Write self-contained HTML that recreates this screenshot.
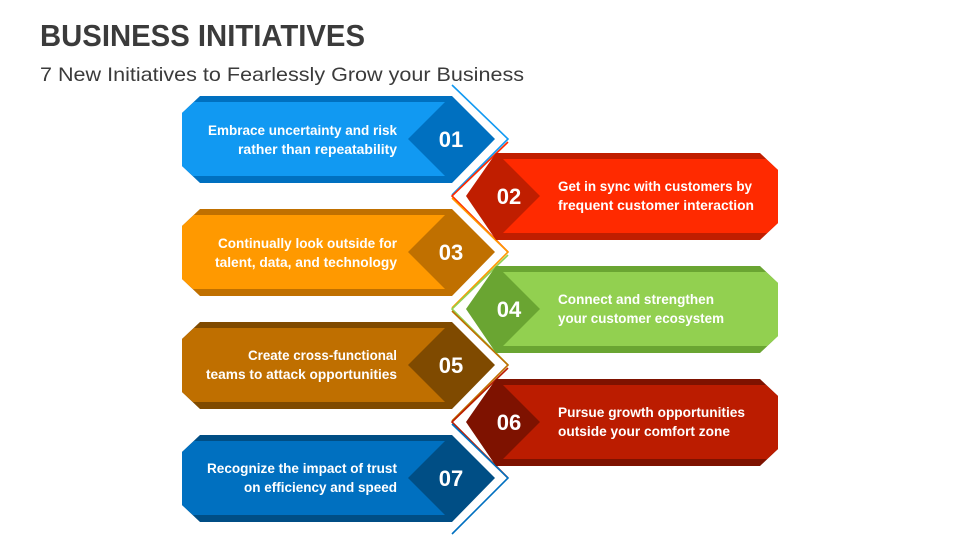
<!DOCTYPE html>
<html><head><meta charset="utf-8"><style>
body{margin:0;width:960px;height:540px;background:#fff;overflow:hidden;font-family:"Liberation Sans",sans-serif}
svg{position:absolute;left:0;top:0}
.t{font-family:"Liberation Sans",sans-serif;font-size:13.5px;font-weight:bold;fill:#fff}
.n{font-family:"Liberation Sans",sans-serif;font-size:22px;font-weight:bold;fill:#fff}
</style></head><body>
<svg width="960" height="540" viewBox="0 0 960 540">
<text x="40" y="46" font-family="Liberation Sans" font-weight="bold" font-size="31" fill="#3b3b3b" textLength="325" lengthAdjust="spacingAndGlyphs">BUSINESS INITIATIVES</text>
<text x="40" y="81" font-family="Liberation Sans" font-size="19.5" fill="#3b3b3b" textLength="484" lengthAdjust="spacingAndGlyphs">7 New Initiatives to Fearlessly Grow your Business</text>

<g fill="none" stroke-width="1.6">
<polyline points="452,85 508,139 452,195" stroke="#1199f2"/>
<polyline points="508,142 452,196 508,252" stroke="#ff2a00"/>
<polyline points="452,198 508,252 452,308" stroke="#ff9900"/>
<polyline points="508,255 452,309 508,365" stroke="#92d050"/>
<polyline points="452,311 508,365 452,421" stroke="#bf6f00"/>
<polyline points="508,368 452,422 508,478" stroke="#bb1c00"/>
<polyline points="452,424 508,478 452,534" stroke="#0070c0"/>
</g>

<polygon points="200,96 452,96 495,139 452,183 200,183 182,166 182,113" fill="#0070c0"/>
<polygon points="194,102 445,102 408,139 445,176 193,176 182,166 182,113" fill="#1199f2"/>
<text class="n" x="451" y="147" text-anchor="middle">01</text>
<text class="t" x="208" y="135" textLength="189" lengthAdjust="spacingAndGlyphs">Embrace uncertainty and risk</text>
<text class="t" x="238" y="154" textLength="159" lengthAdjust="spacingAndGlyphs">rather than repeatability</text>

<polygon points="496,153 760,153 778,170 778,223 760,240 496,240 466,196" fill="#c01e00"/>
<polygon points="503,159 766,159 778,170 778,223 767,233 503,233 540,196" fill="#ff2a00"/>
<text class="n" x="509" y="204" text-anchor="middle">02</text>
<text class="t" x="558" y="191" textLength="194" lengthAdjust="spacingAndGlyphs">Get in sync with customers by</text>
<text class="t" x="558" y="210" textLength="196" lengthAdjust="spacingAndGlyphs">frequent customer interaction</text>

<polygon points="200,209 452,209 495,252 452,296 200,296 182,279 182,226" fill="#c07000"/>
<polygon points="194,215 445,215 408,252 445,289 193,289 182,279 182,226" fill="#ff9900"/>
<text class="n" x="451" y="260" text-anchor="middle">03</text>
<text class="t" x="218" y="248" textLength="179" lengthAdjust="spacingAndGlyphs">Continually look outside for</text>
<text class="t" x="215" y="267" textLength="182" lengthAdjust="spacingAndGlyphs">talent, data, and technology</text>

<polygon points="496,266 760,266 778,283 778,336 760,353 496,353 466,309" fill="#6aa532"/>
<polygon points="503,272 766,272 778,283 778,336 767,346 503,346 540,309" fill="#92d050"/>
<text class="n" x="509" y="317" text-anchor="middle">04</text>
<text class="t" x="558" y="304" textLength="156" lengthAdjust="spacingAndGlyphs">Connect and strengthen</text>
<text class="t" x="558" y="323" textLength="166" lengthAdjust="spacingAndGlyphs">your customer ecosystem</text>

<polygon points="200,322 452,322 495,365 452,409 200,409 182,392 182,339" fill="#7f4a00"/>
<polygon points="194,328 445,328 408,365 445,402 193,402 182,392 182,339" fill="#bf6f00"/>
<text class="n" x="451" y="373" text-anchor="middle">05</text>
<text class="t" x="248" y="360" textLength="149" lengthAdjust="spacingAndGlyphs">Create cross-functional</text>
<text class="t" x="206" y="379" textLength="191" lengthAdjust="spacingAndGlyphs">teams to attack opportunities</text>

<polygon points="496,379 760,379 778,396 778,449 760,466 496,466 466,422" fill="#7e1200"/>
<polygon points="503,385 766,385 778,396 778,449 767,459 503,459 540,422" fill="#bb1c00"/>
<text class="n" x="509" y="430" text-anchor="middle">06</text>
<text class="t" x="558" y="417" textLength="187" lengthAdjust="spacingAndGlyphs">Pursue growth opportunities</text>
<text class="t" x="558" y="436" textLength="172" lengthAdjust="spacingAndGlyphs">outside your comfort zone</text>

<polygon points="200,435 452,435 495,478 452,522 200,522 182,505 182,452" fill="#004e85"/>
<polygon points="194,441 445,441 408,478 445,515 193,515 182,505 182,452" fill="#0070c0"/>
<text class="n" x="451" y="486" text-anchor="middle">07</text>
<text class="t" x="207" y="473" textLength="190" lengthAdjust="spacingAndGlyphs">Recognize the impact of trust</text>
<text class="t" x="244" y="492" textLength="153" lengthAdjust="spacingAndGlyphs">on efficiency and speed</text>
</svg>
</body></html>
